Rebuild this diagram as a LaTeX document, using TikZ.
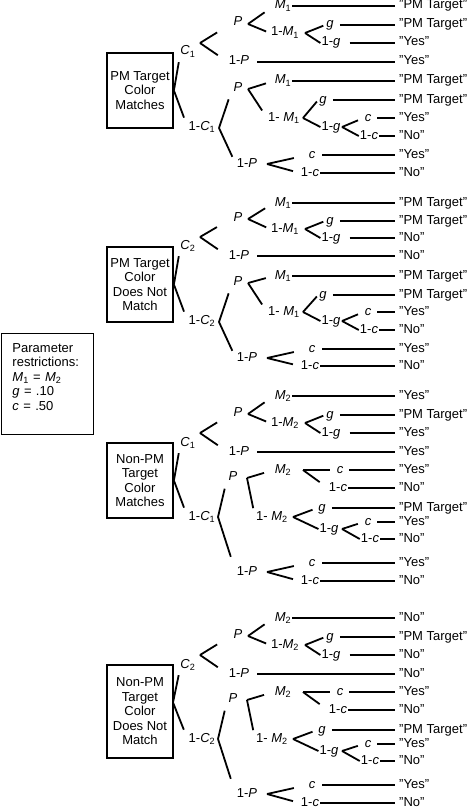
\documentclass[tikz,border=0pt]{standalone}
\usepackage{fontspec}
\setmainfont{Liberation Sans}
\newcommand{\vsub}[2]{\textit{#1}\textsubscript{#2}}

\begin{document}
\begin{tikzpicture}[x=1pt, y=-1pt,
% Node styles
 box/.style={draw, line width=1.8pt, minimum width=66pt, minimum height=75pt,
 align=center, inner sep=1pt, font=\fontsize{13}{14.5}\selectfont},
 lab/.style={inner sep=1pt, text height=9pt, text depth=3pt, font=\fontsize{13}{14.5}\selectfont},
 ans/.style={lab, anchor=west},
 params/.style={draw, line width=1pt, anchor=north west, align=left, text width=70pt,
 minimum width=92pt, minimum height=101pt, inner xsep=11pt, font=\fontsize{13}{14.5}\selectfont},
% Edge styles
 arm/.style={draw, line width=1.8pt, shorten >=#1},
 arm/.default=0pt,
 leaf/.style={draw, line width=1.6pt, shorten <=#1, shorten >=3pt},
 leaf/.default=2pt
]
\useasboundingbox (0,0) rectangle (474,808);
% Parameter box
\node[params] (par) at (1,333) {Parameter\\restrictions:\\\vsub{M}{1} = \vsub{M}{2}\\\textit{g} = .10\\\textit{c} = .50\\\mbox{}};

% Tree 1: PM target, colour matches
\node[box] (boxA) at (140,90.5) {PM Target\\Color\\Matches};
\node[lab] (cA) at (188,52) {\vsub{C}{1}};
\node[lab] (ncA) at (202,127) {1-\vsub{C}{1}};
\draw[arm=3pt] (boxA.east) -- (cA.south west);
\draw[arm=10pt] (boxA.east) -- (ncA.west);
\coordinate (fcA) at (200,43);
\node[lab] (pA) at (238,23) {\textit{P}};
\node[lab] (npA) at (239,62) {1-\textit{P}};
\draw[arm=18pt] (fcA) -- (pA.west);
\draw[arm=12pt] (fcA) -- (npA.west);
\coordinate (fpA) at (248,24);
\node[lab] (mA) at (283,6) {\vsub{M}{1}};
\node[lab] (nmA) at (285,33) {1-\vsub{M}{1}};
\draw[arm=11pt] (fpA) -- (mA.west);
\draw[arm=4pt] (fpA) -- (nmA.west);
\coordinate (fnmA) at (305,33);
\node[lab] (gA) at (330,25) {\textit{g}};
\node[lab] (ngA) at (331,43) {1-\textit{g}};
\draw[arm=2pt] (fnmA) -- (gA.west);
\draw[arm] (fnmA) -- (ngA.west);
\coordinate (fncA) at (219,128);
\node[lab] (ppA) at (238,88) {\textit{P}};
\node[lab] (nppA) at (247,164) {1-\textit{P}};
\draw[arm=12pt] (fncA) -- (ppA.west);
\draw[arm=8pt] (fncA) -- (nppA.west);
\coordinate (fppA) at (248,89);
\node[lab] (mmA) at (283,81) {\vsub{M}{1}};
\node[lab] (nmmA) at (284,118) {1- \vsub{M}{1}};
\draw[arm=8pt] (fppA) -- (mmA.west);
\draw[arm=9pt] (fppA) -- (nmmA.west);
\coordinate (fnmmA) at (303,118);
\node[lab] (ggA) at (323,100) {\textit{g}};
\node[lab] (nggA) at (331,127) {1-\textit{g}};
\draw[arm=2pt] (fnmmA) -- (ggA.west);
\draw[arm] (fnmmA) -- (nggA.west);
\coordinate (fnggA) at (342,127);
\node[lab] (kA) at (368,118) {\textit{c}};
\node[lab] (nkA) at (369,136) {1-\textit{c}};
\draw[arm=6pt] (fnggA) -- (kA.west);
\draw[arm] (fnggA) -- (nkA.west);
\coordinate (fnppA) at (267,164);
\node[lab] (dA) at (312,155) {\textit{c}};
\node[lab] (ndA) at (310,173) {1-\textit{c}};
\draw[arm=14pt] (fnppA) -- (dA.west);
\draw[arm=7pt] (fnppA) -- (ndA.west);
% responses
\node[ans] (A1) at (398,6) {"PM Target"};
\node[ans] (A2) at (398,25) {"PM Target"};
\node[ans] (A3) at (398,43) {"Yes"};
\node[ans] (A4) at (398,62) {"Yes"};
\node[ans] (A5) at (398,81) {"PM Target"};
\node[ans] (A6) at (398,100) {"PM Target"};
\node[ans] (A7) at (398,118) {"Yes"};
\node[ans] (A8) at (398,136) {"No"};
\node[ans] (A9) at (398,155) {"Yes"};
\node[ans] (A10) at (398,173) {"No"};
\draw[leaf=0pt] (mA.east) -- (A1.west);
\draw[leaf=5pt] (gA.east) -- (A2.west);
\draw[leaf=8pt] (ngA.east) -- (A3.west);
\draw[leaf=7pt] (npA.east) -- (A4.west);
\draw[leaf=0pt] (mmA.east) -- (A5.west);
\draw[leaf=5pt] (ggA.east) -- (A6.west);
\draw[leaf=5pt] (kA.east) -- (A7.west);
\draw[leaf=0pt] (nkA.east) -- (A8.west);
\draw[leaf=6pt] (dA.east) -- (A9.west);
\draw[leaf=0pt] (ndA.east) -- (A10.west);

% Tree 2: PM target, colour does not match
\node[box] (boxB) at (140,284.5) {PM Target\\Color\\Does Not\\Match};
\node[lab] (cB) at (188,246) {\vsub{C}{2}};
\node[lab] (ncB) at (202,321) {1-\vsub{C}{2}};
\draw[arm=3pt] (boxB.east) -- (cB.south west);
\draw[arm=10pt] (boxB.east) -- (ncB.west);
\coordinate (fcB) at (200,237);
\node[lab] (pB) at (238,218) {\textit{P}};
\node[lab] (npB) at (239,256) {1-\textit{P}};
\draw[arm=18pt] (fcB) -- (pB.west);
\draw[arm=12pt] (fcB) -- (npB.west);
\coordinate (fpB) at (248,219);
\node[lab] (mB) at (283,203) {\vsub{M}{1}};
\node[lab] (nmB) at (285,229) {1-\vsub{M}{1}};
\draw[arm=10pt] (fpB) -- (mB.west);
\draw[arm=4pt] (fpB) -- (nmB.west);
\coordinate (fnmB) at (305,229);
\node[lab] (gB) at (330,221) {\textit{g}};
\node[lab] (ngB) at (331,238) {1-\textit{g}};
\draw[arm=2pt] (fnmB) -- (gB.west);
\draw[arm] (fnmB) -- (ngB.west);
\coordinate (fncB) at (219,322);
\node[lab] (ppB) at (238,282) {\textit{P}};
\node[lab] (nppB) at (247,358) {1-\textit{P}};
\draw[arm=12pt] (fncB) -- (ppB.west);
\draw[arm=8pt] (fncB) -- (nppB.west);
\coordinate (fppB) at (248,283);
\node[lab] (mmB) at (283,276) {\vsub{M}{1}};
\node[lab] (nmmB) at (284,312) {1- \vsub{M}{1}};
\draw[arm=8pt] (fppB) -- (mmB.west);
\draw[arm=9pt] (fppB) -- (nmmB.west);
\coordinate (fnmmB) at (303,312);
\node[lab] (ggB) at (323,295) {\textit{g}};
\node[lab] (nggB) at (331,321) {1-\textit{g}};
\draw[arm=2pt] (fnmmB) -- (ggB.west);
\draw[arm] (fnmmB) -- (nggB.west);
\coordinate (fnggB) at (342,321);
\node[lab] (kB) at (368,312) {\textit{c}};
\node[lab] (nkB) at (369,330) {1-\textit{c}};
\draw[arm=6pt] (fnggB) -- (kB.west);
\draw[arm] (fnggB) -- (nkB.west);
\coordinate (fnppB) at (267,358);
\node[lab] (dB) at (312,349) {\textit{c}};
\node[lab] (ndB) at (310,366) {1-\textit{c}};
\draw[arm=14pt] (fnppB) -- (dB.west);
\draw[arm=7pt] (fnppB) -- (ndB.west);
% responses
\node[ans] (B1) at (398,203) {"PM Target"};
\node[ans] (B2) at (398,221) {"PM Target"};
\node[ans] (B3) at (398,238) {"No"};
\node[ans] (B4) at (398,256) {"No"};
\node[ans] (B5) at (398,276) {"PM Target"};
\node[ans] (B6) at (398,295) {"PM Target"};
\node[ans] (B7) at (398,312) {"Yes"};
\node[ans] (B8) at (398,330) {"No"};
\node[ans] (B9) at (398,349) {"Yes"};
\node[ans] (B10) at (398,366) {"No"};
\draw[leaf=0pt] (mB.east) -- (B1.west);
\draw[leaf=5pt] (gB.east) -- (B2.west);
\draw[leaf=8pt] (ngB.east) -- (B3.west);
\draw[leaf=7pt] (npB.east) -- (B4.west);
\draw[leaf=0pt] (mmB.east) -- (B5.west);
\draw[leaf=5pt] (ggB.east) -- (B6.west);
\draw[leaf=5pt] (kB.east) -- (B7.west);
\draw[leaf=0pt] (nkB.east) -- (B8.west);
\draw[leaf=6pt] (dB.east) -- (B9.west);
\draw[leaf=0pt] (ndB.east) -- (B10.west);

% Tree 3: non-PM target, colour matches
\node[box] (boxC) at (140,480.5) {Non-PM\\Target\\Color\\Matches};
\node[lab] (cC) at (188,443) {\vsub{C}{1}};
\node[lab] (ncC) at (202,517) {1-\vsub{C}{1}};
\draw[arm=3pt] (boxC.east) -- (cC.south west);
\draw[arm=10pt] (boxC.east) -- (ncC.west);
\coordinate (fcC) at (200,433);
\node[lab] (pC) at (238,413) {\textit{P}};
\node[lab] (npC) at (239,452) {1-\textit{P}};
\draw[arm=18pt] (fcC) -- (pC.west);
\draw[arm=12pt] (fcC) -- (npC.west);
\coordinate (fpC) at (248,414);
\node[lab] (mC) at (283,396) {\vsub{M}{2}};
\node[lab] (nmC) at (285,423) {1-\vsub{M}{2}};
\draw[arm=11pt] (fpC) -- (mC.west);
\draw[arm=4pt] (fpC) -- (nmC.west);
\coordinate (fnmC) at (305,423);
\node[lab] (gC) at (330,415) {\textit{g}};
\node[lab] (ngC) at (331,433) {1-\textit{g}};
\draw[arm=2pt] (fnmC) -- (gC.west);
\draw[arm] (fnmC) -- (ngC.west);
\coordinate (fncC) at (218,517);
\node[lab] (ppC) at (233,477) {\textit{P}};
\node[lab] (nppC) at (247,572) {1-\textit{P}};
\draw[arm=12pt] (fncC) -- (ppC.west);
\draw[arm=16pt] (fncC) -- (nppC.west);
\coordinate (fppC) at (247,478);
\node[lab] (mmC) at (283,470) {\vsub{M}{2}};
\node[lab] (nmmC) at (272,517) {1- \vsub{M}{2}};
\draw[arm=10pt] (fppC) -- (mmC.west);
\draw[arm=9pt] (fppC) -- (nmmC.west);
\coordinate (fmmC) at (303,470);
\node[lab] (jC) at (340,470) {\textit{c}};
\node[lab] (njC) at (338,488) {1-\textit{c}};
\draw[arm=6pt] (fmmC) -- (jC.west);
\draw[arm=10pt] (fmmC) -- (njC.west);
\coordinate (fnmmC) at (293,517);
\node[lab] (ggC) at (322,508) {\textit{g}};
\node[lab] (nggC) at (329,529) {1-\textit{g}};
\draw[arm=5pt] (fnmmC) -- (ggC.west);
\draw[arm] (fnmmC) -- (nggC.west);
\coordinate (fnggC) at (342,529);
\node[lab] (kC) at (368,522) {\textit{c}};
\node[lab] (nkC) at (370,539) {1-\textit{c}};
\draw[arm=6pt] (fnggC) -- (kC.west);
\draw[arm] (fnggC) -- (nkC.west);
\coordinate (fnppC) at (267,572);
\node[lab] (dC) at (312,563) {\textit{c}};
\node[lab] (ndC) at (310,581) {1-\textit{c}};
\draw[arm=14pt] (fnppC) -- (dC.west);
\draw[arm=7pt] (fnppC) -- (ndC.west);
% responses
\node[ans] (C1) at (398,396) {"Yes"};
\node[ans] (C2) at (398,415) {"PM Target"};
\node[ans] (C3) at (398,433) {"Yes"};
\node[ans] (C4) at (398,452) {"Yes"};
\node[ans] (C5) at (398,470) {"Yes"};
\node[ans] (C6) at (398,488) {"No"};
\node[ans] (C7) at (398,508) {"PM Target"};
\node[ans] (C8) at (398,522) {"Yes"};
\node[ans] (C9) at (398,539) {"No"};
\node[ans] (C10) at (398,563) {"Yes"};
\node[ans] (C11) at (398,581) {"No"};
\draw[leaf=0pt] (mC.east) -- (C1.west);
\draw[leaf=5pt] (gC.east) -- (C2.west);
\draw[leaf=8pt] (ngC.east) -- (C3.west);
\draw[leaf=7pt] (npC.east) -- (C4.west);
\draw[leaf=5pt] (jC.east) -- (C5.west);
\draw[leaf=0pt] (njC.east) -- (C6.west);
\draw[leaf=5pt] (ggC.east) -- (C7.west);
\draw[leaf=5pt] (kC.east) -- (C8.west);
\draw[leaf=0pt] (nkC.east) -- (C9.west);
\draw[leaf=6pt] (dC.east) -- (C10.west);
\draw[leaf=0pt] (ndC.east) -- (C11.west);

% Tree 4: non-PM target, colour does not match
\node[box, minimum height=93pt] (boxD) at (140,711.5) {Non-PM\\Target\\Color\\Does Not\\Match};
\coordinate (rD) at (173,702.5);
\node[lab] (cD) at (188,665) {\vsub{C}{2}};
\node[lab] (ncD) at (202,739) {1-\vsub{C}{2}};
\draw[arm=3pt] (rD) -- (cD.south west);
\draw[arm=10pt] (rD) -- (ncD.west);
\coordinate (fcD) at (200,655);
\node[lab] (pD) at (238,635) {\textit{P}};
\node[lab] (npD) at (239,674) {1-\textit{P}};
\draw[arm=18pt] (fcD) -- (pD.west);
\draw[arm=12pt] (fcD) -- (npD.west);
\coordinate (fpD) at (248,636);
\node[lab] (mD) at (283,618) {\vsub{M}{2}};
\node[lab] (nmD) at (285,645) {1-\vsub{M}{2}};
\draw[arm=11pt] (fpD) -- (mD.west);
\draw[arm=4pt] (fpD) -- (nmD.west);
\coordinate (fnmD) at (305,645);
\node[lab] (gD) at (330,637) {\textit{g}};
\node[lab] (ngD) at (331,655) {1-\textit{g}};
\draw[arm=2pt] (fnmD) -- (gD.west);
\draw[arm] (fnmD) -- (ngD.west);
\coordinate (fncD) at (218,739);
\node[lab] (ppD) at (233,699) {\textit{P}};
\node[lab] (nppD) at (247,794) {1-\textit{P}};
\draw[arm=12pt] (fncD) -- (ppD.west);
\draw[arm=16pt] (fncD) -- (nppD.west);
\coordinate (fppD) at (247,700);
\node[lab] (mmD) at (283,692) {\vsub{M}{2}};
\node[lab] (nmmD) at (272,739) {1- \vsub{M}{2}};
\draw[arm=10pt] (fppD) -- (mmD.west);
\draw[arm=9pt] (fppD) -- (nmmD.west);
\coordinate (fmmD) at (303,692);
\node[lab] (jD) at (340,692) {\textit{c}};
\node[lab] (njD) at (338,710) {1-\textit{c}};
\draw[arm=6pt] (fmmD) -- (jD.west);
\draw[arm=10pt] (fmmD) -- (njD.west);
\coordinate (fnmmD) at (293,739);
\node[lab] (ggD) at (322,730) {\textit{g}};
\node[lab] (nggD) at (329,751) {1-\textit{g}};
\draw[arm=5pt] (fnmmD) -- (ggD.west);
\draw[arm] (fnmmD) -- (nggD.west);
\coordinate (fnggD) at (342,751);
\node[lab] (kD) at (368,744) {\textit{c}};
\node[lab] (nkD) at (370,761) {1-\textit{c}};
\draw[arm=6pt] (fnggD) -- (kD.west);
\draw[arm] (fnggD) -- (nkD.west);
\coordinate (fnppD) at (267,794);
\node[lab] (dD) at (312,785) {\textit{c}};
\node[lab] (ndD) at (310,803) {1-\textit{c}};
\draw[arm=14pt] (fnppD) -- (dD.west);
\draw[arm=7pt] (fnppD) -- (ndD.west);
% responses
\node[ans] (D1) at (398,618) {"No"};
\node[ans] (D2) at (398,637) {"PM Target"};
\node[ans] (D3) at (398,655) {"No"};
\node[ans] (D4) at (398,674) {"No"};
\node[ans] (D5) at (398,692) {"Yes"};
\node[ans] (D6) at (398,710) {"No"};
\node[ans] (D7) at (398,730) {"PM Target"};
\node[ans] (D8) at (398,744) {"Yes"};
\node[ans] (D9) at (398,761) {"No"};
\node[ans] (D10) at (398,785) {"Yes"};
\node[ans] (D11) at (398,803) {"No"};
\draw[leaf=0pt] (mD.east) -- (D1.west);
\draw[leaf=5pt] (gD.east) -- (D2.west);
\draw[leaf=8pt] (ngD.east) -- (D3.west);
\draw[leaf=7pt] (npD.east) -- (D4.west);
\draw[leaf=5pt] (jD.east) -- (D5.west);
\draw[leaf=0pt] (njD.east) -- (D6.west);
\draw[leaf=5pt] (ggD.east) -- (D7.west);
\draw[leaf=5pt] (kD.east) -- (D8.west);
\draw[leaf=0pt] (nkD.east) -- (D9.west);
\draw[leaf=6pt] (dD.east) -- (D10.west);
\draw[leaf=0pt] (ndD.east) -- (D11.west);
\end{tikzpicture}
\end{document}
